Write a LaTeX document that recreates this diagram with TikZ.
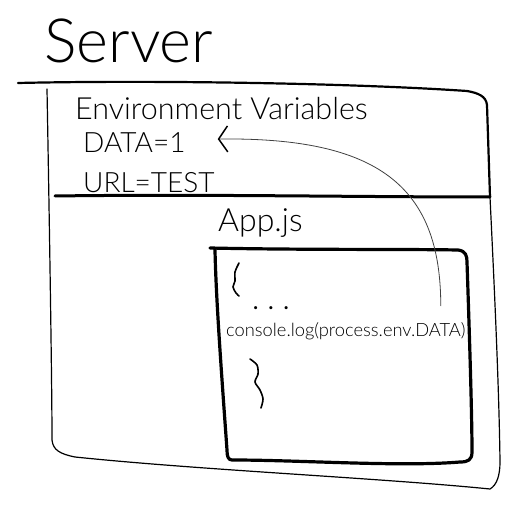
\documentclass[tikz,border=0pt]{standalone}
\usepackage{fontspec}
\setmainfont{Lato Light}
\usetikzlibrary{arrows.meta}

\begin{document}
\begin{tikzpicture}[x=1pt,y=-1pt,line cap=round,line join=round,
                    >={Straight Barb[length=9pt,width=26pt,line width=1.5pt,color=black]},
                    hand/.style={anchor=base west,inner sep=0pt,
                                 font=\fontsize{#1}{#1}\selectfont},
                    thinline/.style={line width=1.2pt},
                    boxline/.style={line width=3.2pt},
                    curly/.style={line width=1.6pt}]
  \useasboundingbox (0,0) rectangle (523,510);

  \node[hand=61]   (server)  at (44,63)   {Server};
  \node[hand=30.5] (envvars) at (75,120)  {Environment Variables};
  \node[hand=28]   (data)    at (83,153)  {DATA=1};
  \node[hand=28]   (url)     at (83,193)  {URL=TEST};
  \node[hand=32]   (appjs)   at (218,232) {App.js};
  \node[hand=22]   (dots)    at (253,310) {\bfseries .\hspace{10pt}.\hspace{10pt}.};
  \node[hand=18.3] (console) at (226,337) {console.log(process.env.DATA)};

  % server outline
  \draw[line width=2.2pt] (18,83) .. controls (150,80) and (350,83) .. (467,91)
        .. controls (478,93) and (486,96) .. (487,105) -- (490,197);
  \draw[thinline] (47,89) .. controls (49,200) and (52,380) .. (52,440)
        .. controls (53,450) and (60,454) .. (75,457)
        .. controls (200,470) and (380,478) .. (490,489)
        .. controls (497,485) and (500,475) .. (500,462)
        .. controls (499,380) and (493,260) .. (490,197);
  \draw[line width=3pt] (55,196) .. controls (200,194) and (350,197) .. (490,197);

  % app box
  \draw[boxline] (210,248) .. controls (300,250) and (400,249) .. (458,250)
        .. controls (466,251) and (467,256) .. (467,262)
        .. controls (470,350) and (472,420) .. (472,452)
        .. controls (472,460) and (468,462) .. (460,462)
        .. controls (400,467) and (300,460) .. (232,460)
        .. controls (228,460) and (227,456) .. (227,450)
        .. controls (222,380) and (216,300) .. (215,250);
  \draw[curly] plot[smooth] coordinates {(239,263) (235,272) (235,281) (233,287) (236,293) (239,296)};
  \draw[curly] plot[smooth] coordinates {(250,359) (257,365) (258,374) (255,382) (260,390) (263,399) (261,408)};

  \draw[->,line width=0.8pt,black!75] ([xshift=-25pt,yshift=17pt]console.north east)
        .. controls +(0,-120) and +(160,-2) .. ([xshift=32pt,yshift=4pt]data.east);
\end{tikzpicture}
\end{document}
